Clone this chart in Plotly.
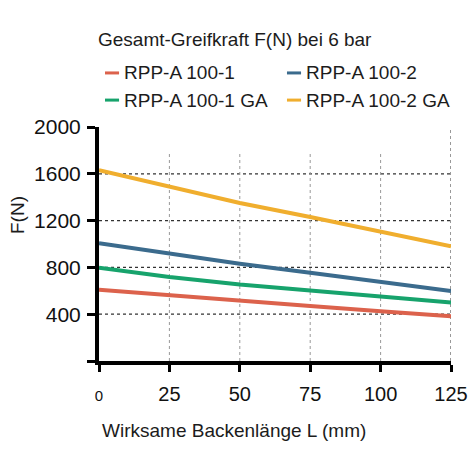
import plotly.graph_objects as go

# Backenlänge L (mm) and Greifkraft F (N) at 6 bar
laenge = [0, 25, 50, 75, 100, 125]
f_100_1 = [610, 562, 513, 471, 426, 383]
f_100_2 = [1007, 922, 831, 755, 675, 598]
f_100_1_ga = [797, 718, 653, 604, 556, 500]
f_100_2_ga = [1630, 1487, 1350, 1231, 1103, 981]

namen = ["RPP-A 100-1", "RPP-A 100-2", "RPP-A 100-1 GA", "RPP-A 100-2 GA"]
farben = ["#dc624c", "#3b6b8d", "#17a36c", "#f0ae2e"]

x_ticks = [0, 25, 50, 75, 100, 125]
x_ticktext = ["<span style='font-size:15px'>0</span>", "25", "50", "75", "100", "125"]
y_ticks = [0, 400, 800, 1200, 1600, 2000]
y_ticktext = ["", "400", "800", "1200", "1600", "2000"]
h_grid = [400, 800, 1200, 1600]
v_grid = [25, 50, 75, 100]

FONT = "Liberation Sans, Arial, sans-serif"
TXT = "#1c1c1c"

fig = go.Figure()
for name, col, vals in zip(namen, farben, [f_100_1, f_100_2, f_100_1_ga, f_100_2_ga]):
    fig.add_trace(go.Scatter(x=laenge, y=vals, mode="lines", name=name,
                             line=dict(color=col, width=4), showlegend=False))

# dotted grid lines
for v in h_grid:
    fig.add_shape(type="line", xref="x", yref="y", x0=0, x1=125, y0=v, y1=v,
                  line=dict(color="#333333", width=1.2, dash="dot"), layer="below")
for v in v_grid:
    fig.add_shape(type="line", xref="x", yref="y", x0=v, x1=v, y0=0, y1=1780,
                  line=dict(color="#999999", width=1, dash="dot"), layer="below")
fig.add_shape(type="line", xref="x", yref="y", x0=125, x1=125, y0=0, y1=2000,
              line=dict(color="#555555", width=1.2, dash="dot"), layer="below")

# hand-made legend (short line samples)
leg_pos = [(0.017, 1.231), (0.534, 1.231), (0.017, 1.115), (0.534, 1.115)]
for (lx, ly), name, col in zip(leg_pos, namen, farben):
    fig.add_shape(type="line", xref="paper", yref="paper", x0=lx, x1=lx + 0.04,
                  y0=ly, y1=ly, line=dict(color=col, width=3))
    fig.add_annotation(xref="paper", yref="paper", x=lx + 0.049, y=ly, text=name,
                       showarrow=False, xanchor="left", yanchor="middle",
                       font=dict(size=19, color=TXT, family=FONT))

fig.add_annotation(xref="paper", yref="paper", x=0.386, y=1.372,
                   text="Gesamt-Greifkraft F(N) bei 6 bar", showarrow=False,
                   xanchor="center", yanchor="middle",
                   font=dict(size=19, color=TXT, family=FONT))
fig.add_annotation(xref="paper", yref="paper", x=0.003, y=-0.299,
                   text="Wirksame Backenlänge L (mm)", showarrow=False,
                   xanchor="left", yanchor="middle",
                   font=dict(size=19, color=TXT, family=FONT))
fig.add_annotation(xref="paper", yref="paper", x=-0.23, y=0.624, text="F(N)",
                   textangle=-90, showarrow=False, xanchor="center", yanchor="middle",
                   font=dict(size=19, color=TXT, family=FONT))

fig.update_xaxes(range=[0, 125], tickvals=x_ticks, ticktext=x_ticktext,
                 showgrid=False, zeroline=False, showline=True, linecolor="black",
                 linewidth=4, ticks="outside", ticklen=7, tickwidth=3,
                 tickcolor="black", ticklabelstandoff=5, automargin=False,
                 tickfont=dict(size=20, color="#111111", family=FONT))
fig.update_yaxes(range=[0, 2000], tickvals=y_ticks, ticktext=y_ticktext,
                 showgrid=False, zeroline=False, showline=True, linecolor="black",
                 linewidth=4, ticks="outside", ticklen=8, tickwidth=3,
                 tickcolor="black", ticklabelstandoff=2, automargin=False,
                 tickfont=dict(size=21, color="#111111", family=FONT))

fig.update_layout(width=470, height=470, margin=dict(l=99, r=19, t=127, b=109),
                  plot_bgcolor="white", paper_bgcolor="white",
                  font=dict(family=FONT, color=TXT))

# page margin off so the 470px figure fills the window
fig.write_html("out.html", config={"displayModeBar": False},
               post_script="document.body.style.margin='0';")
